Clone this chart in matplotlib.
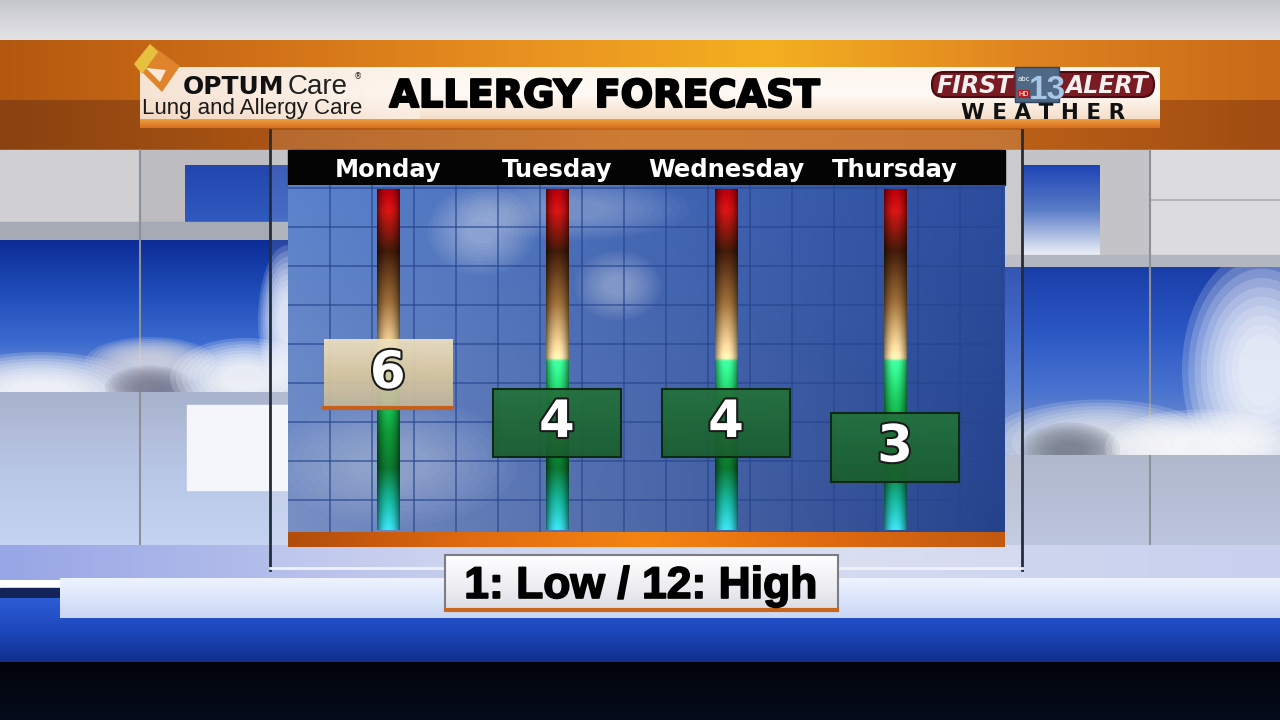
import numpy as np
import matplotlib
matplotlib.use('Agg')
import matplotlib.pyplot as plt
import matplotlib.patheffects as pe
from matplotlib.colors import LinearSegmentedColormap, to_rgb
from matplotlib.patches import Rectangle, Ellipse, Polygon, FancyBboxPatch
from matplotlib.transforms import blended_transform_factory

# data
days = ['Monday', 'Tuesday', 'Wednesday', 'Thursday']
levels = [6, 4, 4, 3]
scale_min, scale_max = 1, 12
title = 'ALLERGY FORECAST'
scale_note = '1: Low / 12: High'

W, H = 1280, 720


def grad(ax, x0, x1, y0, y1, colors, horizontal=False, z=0, alpha=1.0):
    # colours run top->bottom (or left->right), in pixel coords of the backdrop axes
    cmap = LinearSegmentedColormap.from_list('g', colors)
    t = np.linspace(0, 1, 256)
    img = t[None, :] if horizontal else t[:, None]
    ax.imshow(img, cmap=cmap, extent=(x0, x1, y1, y0), aspect='auto',
              interpolation='bilinear', zorder=z, alpha=alpha)


def soft_blob(ax, xy, w, h, color, alpha, clip=None, z=2, transform=None, steps=10):
    # many stacked faint ellipses give a blurred edge
    for s in np.linspace(1.0, 0.3, steps):
        kw = {} if transform is None else {'transform': transform}
        e = Ellipse(xy, w * s, h * s, facecolor=color, edgecolor='none', alpha=alpha, zorder=z, **kw)
        ax.add_patch(e)
        if clip is not None:
            e.set_clip_path(clip)


fig = plt.figure(figsize=(12.8, 7.2), dpi=100)
ax = fig.add_axes([0, 0, 1, 1])

# ---- studio backdrop ----
grad(ax, 0, W, 0, 42, ['#c6c7ce', '#e4e4e8'])
grad(ax, 0, W, 40, 100, ['#b45810', '#d07018', '#e89020', '#f4b020', '#e08420', '#c86a18'], horizontal=True)
grad(ax, 0, W, 100, 158, ['#8a4210', '#b05814', '#c86a18', '#c06418', '#a04c12'], horizontal=True)

# left wall
ax.add_patch(Rectangle((0, 150), 140, 75, color='#d0d0d3', zorder=1))
ax.add_patch(Rectangle((140, 150), 150, 75, color='#bcbcc1', zorder=1))
grad(ax, 185, 290, 165, 238, ['#2246ae', '#3460c4'], z=1)
ax.add_patch(Rectangle((0, 222), 290, 18, color='#a6aab4', zorder=1))
grad(ax, 0, 290, 240, 392, ['#0c2c96', '#1e4cb8', '#3a6ad0', '#8a9cc8'], z=1)
sky_l = Rectangle((0, 240), 290, 152, transform=ax.transData)
for b in [(40, 392, 220, 80, 'white', 0.18), (150, 362, 130, 50, '#d8d8e2', 0.18),
          (150, 388, 90, 45, '#7c7c8c', 0.15), (245, 378, 150, 80, 'white', 0.18),
          (288, 320, 60, 150, 'white', 0.16)]:
    soft_blob(ax, b[:2], b[2], b[3], b[4], b[5], clip=sky_l)
grad(ax, 0, 290, 392, 548, ['#a8b2cc', '#b8c6e6', '#c6d4f4'], z=1)
ax.add_patch(Rectangle((187, 405), 103, 85, color='#f4f6fb', zorder=1))
ax.plot([140, 140], [150, 545], color='#8c9098', lw=1.5, zorder=1)

# right wall
ax.add_patch(Rectangle((1000, 150), 150, 108, color='#c4c4c8', zorder=1))
ax.add_patch(Rectangle((1150, 150), 130, 105, color='#dcdcde', zorder=1))
ax.plot([1150, 1280], [200, 200], color='#b4b4b8', lw=1.5, zorder=1)
grad(ax, 1022, 1100, 165, 255, ['#1e44b4', '#5a7cc8', '#eef0f6'], z=1)
ax.add_patch(Rectangle((1000, 255), 280, 12, color='#b2b6c0', zorder=1))
grad(ax, 1000, W, 267, 455, ['#1a3ea8', '#2a56c4', '#4a74d0', '#8a9ec8'], z=1)
sky_r = Rectangle((1000, 267), 280, 188, transform=ax.transData)
for b in [(1262, 370, 160, 240, 'white', 0.18), (1100, 442, 230, 85, '#e8eaf0', 0.18),
          (1070, 450, 100, 55, '#6a7282', 0.15), (1200, 447, 190, 75, 'white', 0.18)]:
    soft_blob(ax, b[:2], b[2], b[3], b[4], b[5], clip=sky_r)
grad(ax, 1000, W, 455, 548, ['#b0b8cc', '#bcc6de'], z=1)
ax.plot([1150, 1150], [150, 545], color='#8c9098', lw=1.5, zorder=1)

# floor / desk
grad(ax, 0, W, 545, 580, ['#98a6e6', '#c4cced', '#d4daf0', '#c8d0ee'], horizontal=True, z=1)
ax.add_patch(Rectangle((0, 588), 60, 12, color='#142458', zorder=1))
grad(ax, 0, W, 598, 665, ['#2c5cd4', '#1c48bc', '#0e2c86'], z=1)
grad(ax, 60, W, 578, 618, ['#eef3fe', '#dce6fa', '#c8d6f4'], z=2)
grad(ax, 0, W, 662, 720, ['#02040a', '#060c1c'], z=1)

# glass frame around the panel
ax.add_patch(Rectangle((270, 130), 752, 440, facecolor='white', alpha=0.12, edgecolor='none', zorder=3))
ax.plot([270, 270], [130, 570], color='#262c36', lw=2, zorder=4)
ax.plot([1022, 1022], [130, 570], color='#262c36', lw=2, zorder=4)
ax.plot([270, 1022], [568, 568], color='#eef2f8', lw=2, zorder=4)

# panel head and foot
ax.add_patch(Rectangle((288, 150), 717, 35, color='#040404', zorder=5))
grad(ax, 288, 1005, 532, 547, ['#b04c0c', '#e06a10', '#f48412', '#e06a10', '#c05a10'], horizontal=True, z=5)

# ---- header bar ----
grad(ax, 140, 1160, 67, 121, ['#fdf6ee', '#fffaf5', '#f4dcc6'], z=6)
grad(ax, 140, 420, 67, 121, ['#f2d6c0', '#fdf4ec'], horizontal=True, z=6, alpha=0.6)
grad(ax, 140, 1160, 119, 128, ['#eea040', '#d87020'], z=6)
ax.text(605, 107, title, fontsize=27.5, fontweight='bold', color='black', ha='center', va='baseline',
        zorder=7, path_effects=[pe.withStroke(linewidth=1.5, foreground='black')])

# Optum logo
ax.add_patch(Polygon([(134, 64), (150, 44), (180, 66), (162, 92)], closed=True, fc='#e0842c', ec='none', zorder=7))
ax.add_patch(Polygon([(134, 64), (150, 44), (158, 52), (142, 74)], closed=True, fc='#e8c040', ec='none', zorder=7))
ax.add_patch(Polygon([(146, 68), (166, 70), (160, 82)], closed=True, fc='#fbe8d8', ec='none', zorder=7))
ax.text(183, 94, 'OPTUM', fontsize=18, fontweight='bold', color='#111111', ha='left', va='baseline', zorder=7)
ax.text(288, 94, 'Care', fontsize=20, color='#222222', ha='left', va='baseline', zorder=7,
        family='Liberation Sans')
ax.text(354, 79, '®', fontsize=6, color='#222222', ha='left', va='baseline', zorder=7)
ax.text(142, 114, 'Lung and Allergy Care', fontsize=16, color='#1a1a1a', ha='left', va='baseline',
        zorder=7, family='Liberation Sans')

# First Alert logo
ax.add_patch(FancyBboxPatch((932, 72), 222, 25, boxstyle='round,pad=0,rounding_size=12',
                            fc='#7a1a22', ec='#4a0a10', lw=1.5, zorder=7))
ax.text(975, 93, 'FIRST', fontsize=17, fontweight='bold', style='italic', color='#f4f0f0',
        ha='center', va='baseline', zorder=8)
ax.text(1107, 93, 'ALERT', fontsize=17, fontweight='bold', style='italic', color='#f4f0f0',
        ha='center', va='baseline', zorder=8)
ax.add_patch(Rectangle((1015, 67), 44, 35, fc='#4e6886', ec='#33465e', lw=1, zorder=8))
ax.text(1047, 99, '13', fontsize=24, fontweight='bold', color='#a8c6e6', ha='center', va='baseline', zorder=9,
        family='Liberation Sans')
ax.text(1024, 79, 'abc', fontsize=5, color='white', ha='center', va='center', zorder=9)
ax.text(1024, 94, 'HD', fontsize=5, color='white', ha='center', va='center', zorder=9,
        bbox=dict(boxstyle='square,pad=0.1', fc='#b02020', ec='none'))
ax.text(1043, 119, 'W E A T H E R', fontsize=15.5, fontweight='bold', color='#111111',
        ha='center', va='baseline', zorder=7)

# ---- scale note ----
grad(ax, 445, 838, 555, 610, ['#ffffff', '#f0f0f4', '#dcdce4'], z=6)
ax.add_patch(Rectangle((445, 555), 393, 55, fill=False, ec='#7c7c84', lw=1.5, zorder=7))
ax.plot([446, 837], [610, 610], color='#c8661e', lw=3, zorder=7)
ax.text(641, 598, scale_note, fontsize=32, fontweight='bold', color='black', ha='center',
        va='baseline', zorder=8, family='Liberation Sans',
        path_effects=[pe.withStroke(linewidth=1.2, foreground='black')])

ax.set_xlim(0, W)
ax.set_ylim(H, 0)
ax.axis('off')

# ---- chart panel ----
cx = fig.add_axes([288 / W, 1 - 532 / H, 717 / W, 347 / H])
cx.set_zorder(2)
xlo, xhi = -0.59, 3.65
ylo, yhi = -0.45, 13.71

yy, xx = np.mgrid[0:1:200j, 0:1:300j]
tl, tr = np.array(to_rgb('#5a82cc')), np.array(to_rgb('#2c4c9e'))
bl, br = np.array(to_rgb('#7890c4')), np.array(to_rgb('#24428c'))
photo = ((1 - yy)[..., None] * ((1 - xx)[..., None] * tl + xx[..., None] * tr)
         + yy[..., None] * ((1 - xx)[..., None] * bl + xx[..., None] * br))
cx.imshow(photo, extent=(xlo, xhi, ylo, yhi), aspect='auto', zorder=0, interpolation='bilinear')
for ex, ey, ew, eh, a in [(0.27, 0.87, 0.15, 0.26, 0.045), (0.46, 0.71, 0.12, 0.20, 0.04),
                          (0.40, 0.93, 0.32, 0.18, 0.03), (0.15, 0.20, 0.34, 0.36, 0.03)]:
    soft_blob(cx, (ex, ey), ew, eh, 'white', a, z=0.5, transform=cx.transAxes)

# grid squares
for k in range(1, 18):
    f = k * 42 / 717
    cx.plot([f, f], [0, 1], transform=cx.transAxes, color='#26458e', lw=1.2, alpha=0.7, zorder=1)
for k in range(9):
    f = 1 - (3 + k * 39) / 347
    cx.plot([0, 1], [f, f], transform=cx.transAxes, color='#26458e', lw=1.2, alpha=0.7, zorder=1)

# gauge tracks
bar_stops = [(0.0, '#a4000a'), (0.06, '#c21212'), (0.18, '#3a1808'), (0.33, '#8c6232'),
             (0.49, '#f4daa2'), (0.497, '#f4daa2'), (0.503, '#38ea92'), (0.6, '#1cbc5c'),
             (0.72, '#0d8630'), (0.82, '#0b6a2a'), (0.91, '#13a088'), (1.0, '#34cad8')]
bar_cmap = LinearSegmentedColormap.from_list('track', bar_stops)
rows = bar_cmap(np.linspace(0, 1, 400))[:, :3]
u = np.linspace(0, 1, 24)
shade = 0.55 + 0.6 * np.sin(np.pi * u) ** 0.8
track = np.clip(rows[:, None, :] * shade[None, :, None], 0, 1)
bar_lo, bar_hi = scale_min - 1.37, scale_max + 1.51
hw = 0.066

bw, bh = 0.757, 2.78
for i, (day, v) in enumerate(zip(days, levels)):
    cx.imshow(track, extent=(i - hw, i + hw, bar_lo, bar_hi), aspect='auto', zorder=2,
              interpolation='bilinear')
    if v >= 5:
        box_cols = ['#f0e2c0', '#dccaa0', '#c2b69c']
    else:
        box_cols = ['#24723c', '#1e6834', '#1a5e2e']
    bc = LinearSegmentedColormap.from_list('box', box_cols)
    cx.imshow(np.linspace(0, 1, 64)[:, None], cmap=bc, extent=(i - bw / 2, i + bw / 2, v - bh / 2, v + bh / 2),
              aspect='auto', zorder=3, alpha=0.93, interpolation='bilinear')
    if v >= 5:
        cx.plot([i - bw / 2, i + bw / 2], [v - bh / 2, v - bh / 2], color='#c8601c', lw=3, zorder=4)
    else:
        cx.add_patch(Rectangle((i - bw / 2, v - bh / 2), bw, bh, fill=False, ec='#0c2a14', lw=1.5, zorder=4))
    cx.text(i, v, str(v), fontsize=37, fontweight='bold', color='white', ha='center', va='center',
            zorder=5, path_effects=[pe.withStroke(linewidth=3, foreground='#1a1a1a')])

# day names above each column
tr_lbl = blended_transform_factory(cx.transData, cx.transAxes)
for i, day in enumerate(days):
    cx.text(i, (532 - 177) / 347, day, transform=tr_lbl, fontsize=17.5, fontweight='bold',
            color='white', ha='center', va='baseline', clip_on=False, zorder=6)

cx.set_xlim(xlo, xhi)
cx.set_ylim(ylo, yhi)
cx.axis('off')

fig.savefig('out.png', dpi=100)
